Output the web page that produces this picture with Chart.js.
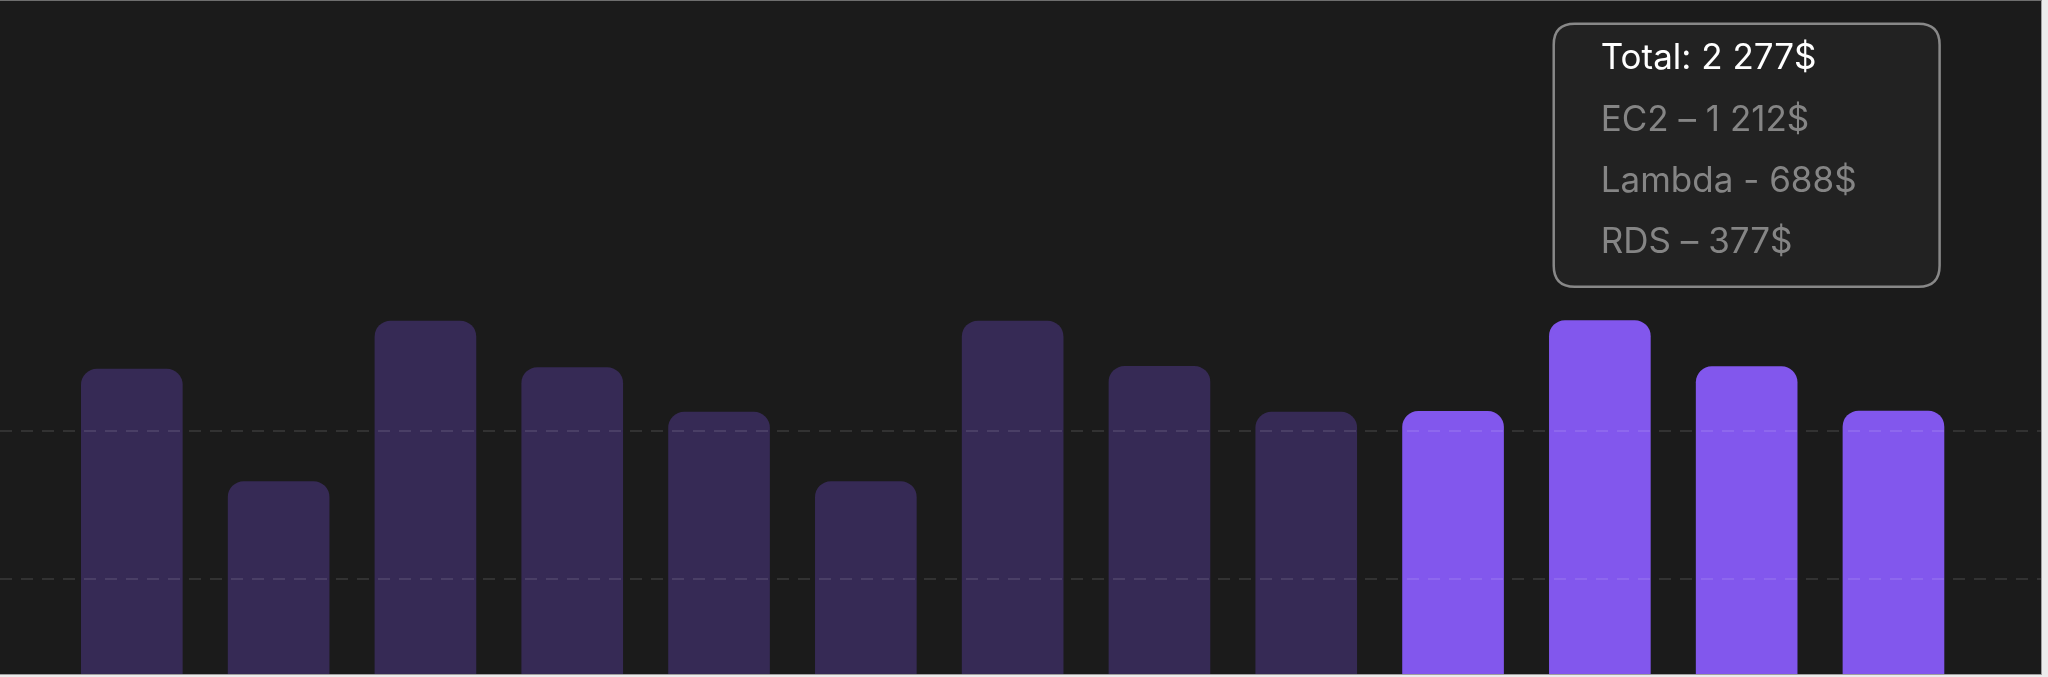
<!DOCTYPE html>
<html>
<head>
<meta charset="utf-8">
<script src="https://cdn.jsdelivr.net/npm/chart.js@4.4.1/dist/chart.umd.min.js"></script>
<style>
  html, body { margin: 0; padding: 0; background: #ececec; }
  .panel {
    position: absolute; left: 0; top: 0;
    width: 2041px; height: 673px;
    background: #1b1b1b;
    border-top: 1px solid #6e6e6e;
    border-right: 1px solid #a0a0a0;
    border-bottom: 1px solid #a0a0a0;
  }
  .chart-wrap { position: relative; width: 2041px; height: 673px; }
</style>
</head>
<body>
<div class="panel"><div class="chart-wrap"><canvas id="costBar"></canvas></div></div>
<script>
  // bars (total cost, $)
  const LABELS = ['W1','W2','W3','W4','W5','W6','W7','W8','W9','W10','W11','W12','W13'];
  const TOTALS = [2262, 1551, 2566, 2272, 1990, 1551, 2566, 2280, 1990, 1994, 2569, 2277, 1997];
  const GRID_VALUES = [936, 1872];

  // breakdown shown in the tooltip of the hovered bar
  const HOVER_INDEX = 11;
  const SERVICES = ['EC2', 'Lambda', 'RDS'];
  const SERVICE_DASH = ['–', '-', '–'];
  const SERVICE_COSTS = [1212, 688, 377];

  const HIGHLIGHT_FROM = 9;
  const DIM = '#362a55';
  const BRIGHT = '#8257ed';

  const money = v => String(Math.round(v)).replace(/\B(?=(\d{3})+(?!\d))/g, ' ') + '$';

  const chart = new Chart(document.getElementById('costBar'), {
    type: 'bar',
    data: {
      labels: LABELS,
      datasets: [{
        data: TOTALS.map((y, i) => ({ x: i, y })),
        backgroundColor: TOTALS.map((_, i) => i >= HIGHLIGHT_FROM ? BRIGHT : DIM),
        hoverBackgroundColor: TOTALS.map((_, i) => i >= HIGHLIGHT_FROM ? BRIGHT : DIM),
        borderRadius: 16,
        barThickness: 101
      }]
    },
    options: {
      responsive: true,
      maintainAspectRatio: false,
      animation: false,
      events: [],
      layout: { padding: 0 },
      scales: {
        x: {
          type: 'linear', display: false, offset: false,
          min: -0.898, max: 13.005,
          ticks: { stepSize: 1, includeBounds: false }
        },
        y: {
          min: 334, max: 4589,
          afterBuildTicks: s => { s.ticks = GRID_VALUES.map(value => ({ value })); },
          ticks: { display: false },
          border: { display: false, dash: [12, 9] },
          grid: { color: 'rgba(255,255,255,0.1)', lineWidth: 2, drawTicks: false, z: 1 }
        }
      },
      plugins: {
        legend: { display: false },
        tooltip: {
          enabled: true,
          displayColors: false,
          xAlign: 'center',
          yAlign: 'bottom',
          caretSize: 0,
          caretPadding: 80,
          cornerRadius: 21,
          backgroundColor: '#222222',
          borderColor: '#888888',
          borderWidth: 2.5,
          padding: { top: 14, bottom: 23, left: 47, right: 83 },
          titleColor: '#ffffff',
          bodyColor: '#858585',
          titleFont: { family: 'Inter', size: 35, weight: '400' },
          bodyFont: { family: 'Inter', size: 35, weight: '400' },
          titleMarginBottom: 20,
          bodySpacing: 19,
          callbacks: {
            title: items => 'Total: ' + money(items[0].parsed.y),
            label: () => SERVICES.map((s, i) => s + ' ' + SERVICE_DASH[i] + ' ' + money(SERVICE_COSTS[i]))
          }
        }
      }
    }
  });

  const bar = chart.getDatasetMeta(0).data[HOVER_INDEX];
  chart.tooltip.setActiveElements([{ datasetIndex: 0, index: HOVER_INDEX }], { x: bar.x, y: bar.y });
  chart.update();
</script>
</body>
</html>
